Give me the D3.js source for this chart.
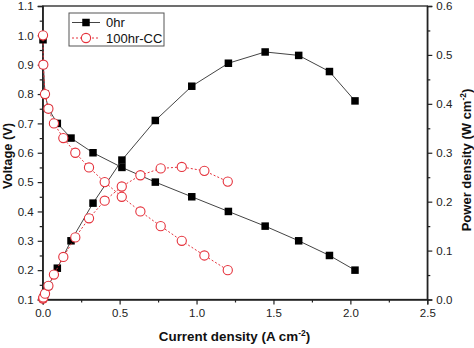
<!DOCTYPE html>
<html><head><meta charset="utf-8">
<script src="https://cdn.jsdelivr.net/npm/d3@7"></script>
<style>
html,body{margin:0;padding:0;background:#fff;}
svg{display:block;font-family:Arial,"Liberation Sans",sans-serif;}
</style></head>
<body>
<svg id="chart" width="474" height="348"></svg>
<script>
// ---- data ----
const seriesNames = ["0hr", "100hr-CC"];
const current0 = [0.002, 0.004, 0.015, 0.037, 0.095, 0.184, 0.327, 0.515, 0.732, 0.969, 1.207, 1.446, 1.664, 1.864, 2.030];
const voltage0 = [0.985, 0.90, 0.80, 0.75, 0.70, 0.65, 0.60, 0.55, 0.50, 0.45, 0.40, 0.35, 0.30, 0.25, 0.20];
const power0   = [0.002, 0.004, 0.012, 0.028, 0.064, 0.120, 0.197, 0.285, 0.366, 0.436, 0.483, 0.506, 0.499, 0.466, 0.406];
const current100 = [0.002, 0.004, 0.015, 0.037, 0.073, 0.134, 0.212, 0.301, 0.403, 0.514, 0.635, 0.767, 0.904, 1.051, 1.203];
const voltage100 = [1.00, 0.90, 0.80, 0.75, 0.70, 0.65, 0.60, 0.55, 0.50, 0.45, 0.40, 0.35, 0.30, 0.25, 0.20];
const power100   = [0.002, 0.004, 0.012, 0.028, 0.051, 0.087, 0.127, 0.166, 0.202, 0.231, 0.254, 0.268, 0.271, 0.263, 0.241];
const xTicks = [0.0, 0.5, 1.0, 1.5, 2.0, 2.5];
const yLeftTicks = [0.1, 0.2, 0.3, 0.4, 0.5, 0.6, 0.7, 0.8, 0.9, 1.0, 1.1];
const yRightTicks = [0.0, 0.1, 0.2, 0.3, 0.4, 0.5, 0.6];

// ---- layout ----
const svg = d3.select("#chart");
const L = 42.7, R = 427.3, T = 6, B = 299.5;
const x = d3.scaleLinear().domain([0, 2.5]).range([L, R]);
const yV = d3.scaleLinear().domain([0.1, 1.1]).range([B, T]);
const yP = d3.scaleLinear().domain([0, 0.6]).range([B, T]);
const red = "#e5323c";
const fontTick = 11.5;

// frame
svg.append("rect").attr("x", L).attr("y", T).attr("width", R - L).attr("height", B - T)
  .attr("fill", "none").attr("stroke", "#222").attr("stroke-width", 1.3);

// axes
function styleAxis(g) {
  g.select(".domain").attr("stroke", "#222").attr("stroke-width", 1.3);
  g.selectAll(".tick line").attr("stroke", "#222").attr("stroke-width", 1.2);
  g.selectAll(".tick text").attr("font-size", fontTick).attr("fill", "#222")
   .attr("font-family", "Arial, 'Liberation Sans', sans-serif");
}
const fmt = d3.format(".1f");
// bottom
const gx = svg.append("g").attr("transform", `translate(0,${B})`)
  .call(d3.axisBottom(x).tickValues(xTicks).tickFormat(fmt).tickSize(5).tickPadding(4));
styleAxis(gx);
svg.append("g").attr("transform", `translate(0,${B})`)
  .call(d3.axisBottom(x).tickValues(d3.range(0.25, 2.5, 0.5)).tickFormat("").tickSize(3))
  .call(g => { g.select(".domain").remove(); g.selectAll("line").attr("stroke", "#222").attr("stroke-width", 1.2); });
// left
const gl = svg.append("g").attr("transform", `translate(${L},0)`)
  .call(d3.axisLeft(yV).tickValues(yLeftTicks).tickFormat(fmt).tickSize(5).tickPadding(4));
styleAxis(gl);
svg.append("g").attr("transform", `translate(${L},0)`)
  .call(d3.axisLeft(yV).tickValues(d3.range(0.15, 1.1, 0.1)).tickFormat("").tickSize(3))
  .call(g => { g.select(".domain").remove(); g.selectAll("line").attr("stroke", "#222").attr("stroke-width", 1.2); });
// right
const gr = svg.append("g").attr("transform", `translate(${R},0)`)
  .call(d3.axisRight(yP).tickValues(yRightTicks).tickFormat(fmt).tickSize(5).tickPadding(4));
styleAxis(gr);
svg.append("g").attr("transform", `translate(${R},0)`)
  .call(d3.axisRight(yP).tickValues(d3.range(0.05, 0.6, 0.1)).tickFormat("").tickSize(3))
  .call(g => { g.select(".domain").remove(); g.selectAll("line").attr("stroke", "#222").attr("stroke-width", 1.2); });

// axis titles
svg.append("text").attr("x", 234.5).attr("y", 341).attr("text-anchor", "middle")
  .attr("font-size", 13.4).attr("font-weight", "bold").attr("fill", "#111")
  .call(t => {
    t.append("tspan").text("Current density (A cm");
    t.append("tspan").attr("dy", -5).attr("font-size", 8.5).text("-2");
    t.append("tspan").attr("dy", 5).text(")");
  });
svg.append("text").attr("transform", "translate(12,156) rotate(-90)").attr("text-anchor", "middle")
  .attr("font-size", 12.8).attr("font-weight", "bold").attr("fill", "#111").text("Voltage (V)");
svg.append("text").attr("transform", "translate(470.5,160) rotate(-90)").attr("text-anchor", "middle")
  .attr("font-size", 13).attr("font-weight", "bold").attr("fill", "#111")
  .call(t => {
    t.append("tspan").text("Power density (W cm");
    t.append("tspan").attr("dy", -5).attr("font-size", 8.5).text("-2");
    t.append("tspan").attr("dy", 5).text(")");
  });

// series
const vData0 = current0.map((c, i) => [c, voltage0[i]]);
const pData0 = current0.map((c, i) => [c, power0[i]]);
const vData100 = current100.map((c, i) => [c, voltage100[i]]);
const pData100 = current100.map((c, i) => [c, power100[i]]);

const lineV = d3.line().x(d => x(d[0])).y(d => yV(d[1]));
const lineP = d3.line().x(d => x(d[0])).y(d => yP(d[1]));

function drawRed(data, line, ys) {
  svg.append("path").datum(data).attr("d", line).attr("fill", "none")
    .attr("stroke", red).attr("stroke-width", 1).attr("stroke-dasharray", "2,2");
  svg.append("g").selectAll("circle").data(data).join("circle")
    .attr("cx", d => x(d[0])).attr("cy", d => ys(d[1])).attr("r", 4.6)
    .attr("fill", "#fff").attr("stroke", red).attr("stroke-width", 1.1);
}
function drawBlack(data, line, ys) {
  svg.append("path").datum(data).attr("d", line).attr("fill", "none")
    .attr("stroke", "#444").attr("stroke-width", 1);
  const s = 7.5;
  svg.append("g").selectAll("rect").data(data).join("rect")
    .attr("x", d => x(d[0]) - s / 2).attr("y", d => ys(d[1]) - s / 2)
    .attr("width", s).attr("height", s).attr("fill", "#000");
}
drawBlack(vData0, lineV, yV);
drawBlack(pData0, lineP, yP);
drawRed(vData100, lineV, yV);
drawRed(pData100, lineP, yP);

// legend
const lg = svg.append("g");
lg.append("rect").attr("x", 69).attr("y", 13).attr("width", 95).attr("height", 33)
  .attr("fill", "#fff").attr("stroke", "#555").attr("stroke-width", 1);
lg.append("line").attr("x1", 72).attr("x2", 100).attr("y1", 22.5).attr("y2", 22.5)
  .attr("stroke", "#444").attr("stroke-width", 1);
lg.append("rect").attr("x", 86 - 3.75).attr("y", 22.5 - 3.75).attr("width", 7.5).attr("height", 7.5).attr("fill", "#000");
lg.append("line").attr("x1", 72).attr("x2", 100).attr("y1", 38).attr("y2", 38)
  .attr("stroke", red).attr("stroke-width", 1).attr("stroke-dasharray", "2,2");
lg.append("circle").attr("cx", 86).attr("cy", 38).attr("r", 4.6).attr("fill", "#fff")
  .attr("stroke", red).attr("stroke-width", 1.1);
lg.selectAll("text.lt").data(seriesNames).join("text").attr("class", "lt")
  .attr("x", 106).attr("y", (d, i) => 27 + i * 15.5)
  .attr("font-size", 13).attr("fill", "#111").text(d => d);
</script>
</body></html>
